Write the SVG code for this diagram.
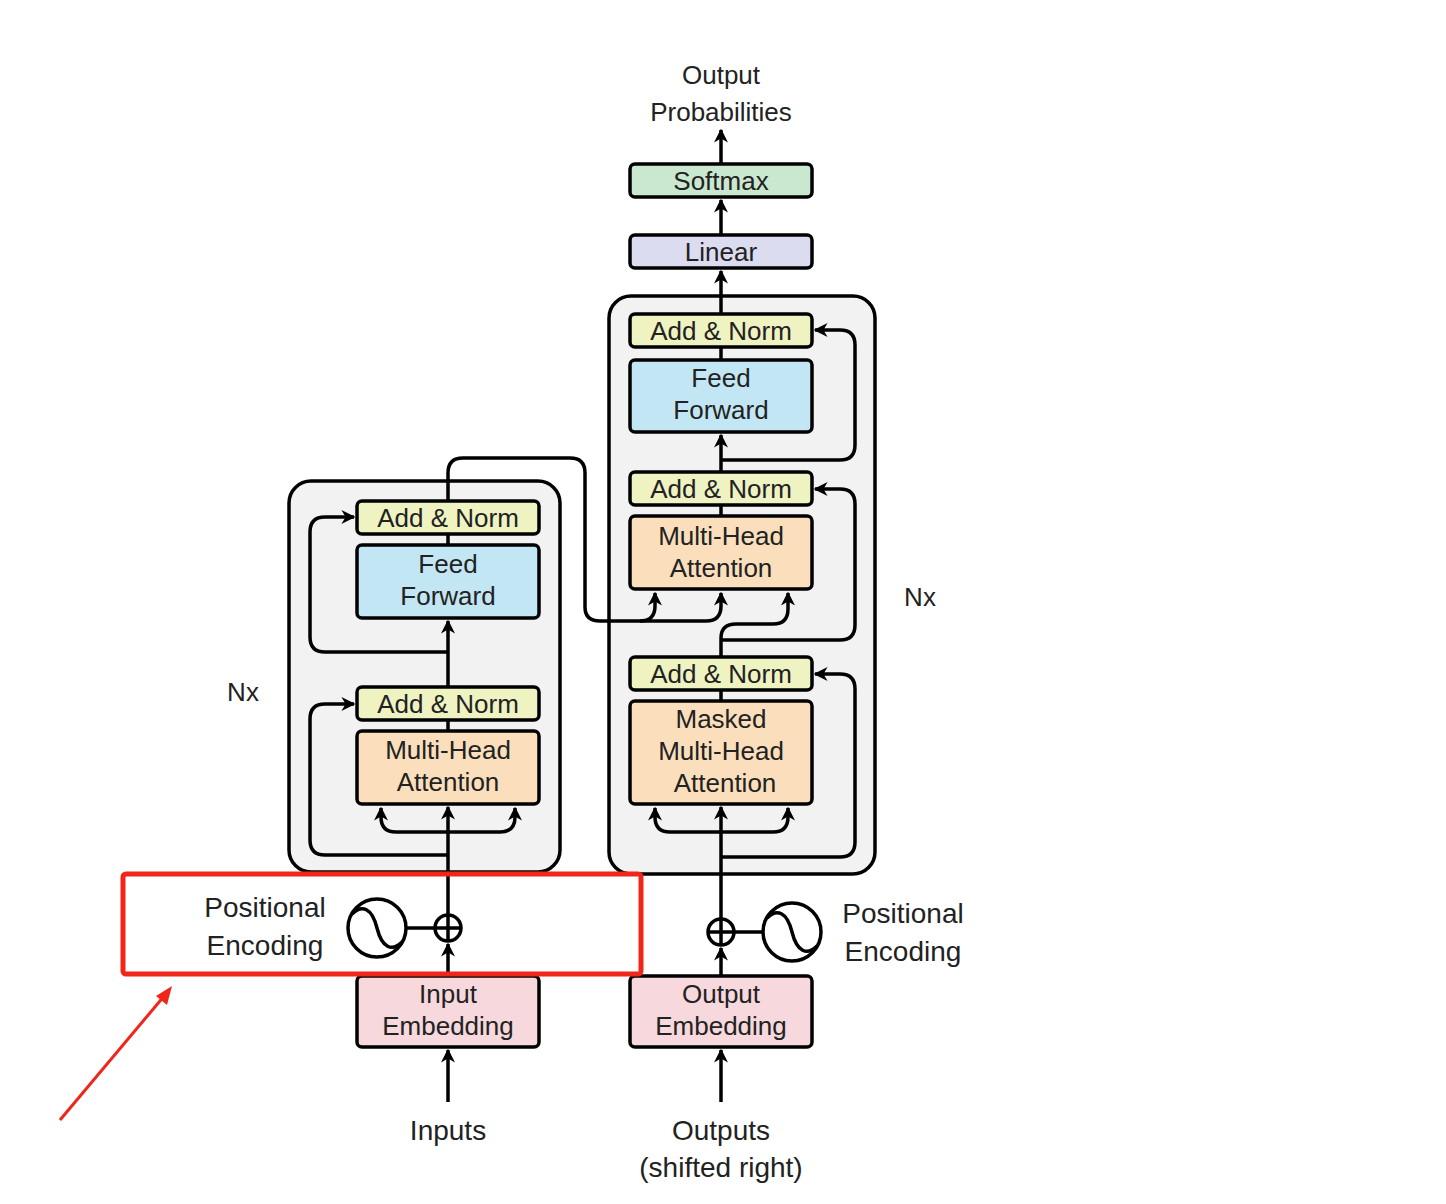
<svg xmlns="http://www.w3.org/2000/svg" width="1446" height="1204" viewBox="0 0 1446 1204">
<defs>
<marker id="ah" viewBox="0 0 10 10" refX="9" refY="5" markerWidth="4" markerHeight="4" orient="auto"><path d="M0,0 L10,5 L0,10 L3,5 z" fill="#000"/></marker>
<style>
text{font-family:"Liberation Sans",Arial,sans-serif;font-size:26px;fill:#222;text-anchor:middle}
.b{stroke:#000;stroke-width:3.5}
.st{fill:#f2f2f2;stroke:#000;stroke-width:3.5}
.c{fill:none;stroke:#000;stroke-width:3.5}
.an{fill:#eff3c2}.ff{fill:#c2e6f4}.mh{fill:#fbdfbc}.em{fill:#f6d8dd}.li{fill:#dcdcf0}.sm{fill:#c9e8cf}
</style>
</defs>
<rect x="289" y="481" width="271" height="391" rx="22" class="st"/>
<rect x="609" y="296" width="266" height="578" rx="22" class="st"/>
<g id="connectors" class="c">
<path d="M448 1102 V1050" marker-end="url(#ah)"/>
<path d="M721 1102 V1050" marker-end="url(#ah)"/>
<path d="M448 976 V944" marker-end="url(#ah)"/>
<path d="M721 976 V948" marker-end="url(#ah)"/>
<path d="M406 928 H435"/><path d="M734 932 H763"/>
<path d="M448 915 V807" marker-end="url(#ah)"/>
<path d="M448 832 H396 Q381 832 381 817 V808" marker-end="url(#ah)"/>
<path d="M448 832 H500 Q515 832 515 817 V808" marker-end="url(#ah)"/>
<path d="M448 855 H325 Q310 855 310 840 V719 Q310 704 325 704 H354" marker-end="url(#ah)"/>
<path d="M448 731 V720"/>
<path d="M448 687 V621" marker-end="url(#ah)"/>
<path d="M448 652 H325 Q310 652 310 637 V532 Q310 517 325 517 H354" marker-end="url(#ah)"/>
<path d="M448 545 V534"/>
<path d="M448 501 V473 Q448 458 463 458 H570 Q585 458 585 473 V607 Q585 621 600 621 H640 Q655 621 655 606 V593" marker-end="url(#ah)"/>
<path d="M640 621 H706 Q721 621 721 606 V593" marker-end="url(#ah)"/>
<path d="M721 919 V807" marker-end="url(#ah)"/>
<path d="M721 832 H670 Q655 832 655 817 V808" marker-end="url(#ah)"/>
<path d="M721 832 H773 Q788 832 788 817 V808" marker-end="url(#ah)"/>
<path d="M721 857 H840 Q855 857 855 842 V689 Q855 674 840 674 H815" marker-end="url(#ah)"/>
<path d="M721 701 V690"/>
<path d="M721 657 V638 Q721 624 736 624 H773 Q788 624 788 609 V593" marker-end="url(#ah)"/>
<path d="M721 640 H840 Q855 640 855 625 V504 Q855 489 840 489 H815" marker-end="url(#ah)"/>
<path d="M721 516 V505"/>
<path d="M721 472 V435" marker-end="url(#ah)"/>
<path d="M721 460 H840 Q855 460 855 445 V345 Q855 330 840 330 H815" marker-end="url(#ah)"/>
<path d="M721 360 V347"/>
<path d="M721 314 V271" marker-end="url(#ah)"/>
<path d="M721 235 V200" marker-end="url(#ah)"/>
<path d="M721 164 V130" marker-end="url(#ah)"/>
</g>
<g id="enc-addnorm2"><rect x="357" y="501" width="182" height="33" rx="5" class="b an"/><text x="448" y="527">Add &amp; Norm</text></g>
<g id="enc-ff"><rect x="357" y="545" width="182" height="73" rx="5" class="b ff"/><text x="448" y="573">Feed</text><text x="448" y="605">Forward</text></g>
<g id="enc-addnorm1"><rect x="357" y="687" width="182" height="33" rx="5" class="b an"/><text x="448" y="713">Add &amp; Norm</text></g>
<g id="enc-mha"><rect x="357" y="731" width="182" height="73" rx="5" class="b mh"/><text x="448" y="759">Multi-Head</text><text x="448" y="791">Attention</text></g>
<g id="dec-addnorm3"><rect x="630" y="314" width="182" height="33" rx="5" class="b an"/><text x="721" y="340">Add &amp; Norm</text></g>
<g id="dec-ff"><rect x="630" y="360" width="182" height="72" rx="5" class="b ff"/><text x="721" y="387">Feed</text><text x="721" y="419">Forward</text></g>
<g id="dec-addnorm2"><rect x="630" y="472" width="182" height="33" rx="5" class="b an"/><text x="721" y="498">Add &amp; Norm</text></g>
<g id="dec-mha"><rect x="630" y="516" width="182" height="73" rx="5" class="b mh"/><text x="721" y="545">Multi-Head</text><text x="721" y="577">Attention</text></g>
<g id="dec-addnorm1"><rect x="630" y="657" width="182" height="33" rx="5" class="b an"/><text x="721" y="683">Add &amp; Norm</text></g>
<g id="dec-mmha"><rect x="630" y="701" width="182" height="103" rx="5" class="b mh"/><text x="721" y="728">Masked</text><text x="721" y="760">Multi-Head</text><text x="725" y="792">Attention</text></g>
<g id="linear"><rect x="630" y="235" width="182" height="33" rx="5" class="b li"/><text x="721" y="261">Linear</text></g>
<g id="softmax"><rect x="630" y="164" width="182" height="33" rx="5" class="b sm"/><text x="721" y="190">Softmax</text></g>
<g id="in-emb"><rect x="357" y="976" width="182" height="71" rx="5" class="b em"/><text x="448" y="1003">Input</text><text x="448" y="1035">Embedding</text></g>
<g id="out-emb"><rect x="630" y="976" width="182" height="71" rx="5" class="b em"/><text x="721" y="1003">Output</text><text x="721" y="1035">Embedding</text></g>
<g id="enc-pe" class="c">
<circle cx="377" cy="928" r="29" fill="#fff"/><path d="M352 914 C362 904 372 908 377 928 C382 948 392 952 402 942"/>
<circle cx="448" cy="928" r="13" fill="#fff"/><path d="M435 928 H461 M448 915 V941"/>
</g>
<g id="dec-pe" class="c">
<circle cx="792" cy="932" r="29" fill="#fff"/><path d="M767 918 C777 908 787 912 792 932 C797 952 807 956 817 946"/>
<circle cx="721" cy="932" r="13" fill="#fff"/><path d="M708 932 H734 M721 919 V945"/>
</g>
<g id="labels">
<text x="721" y="84" font-size="28">Output</text>
<text x="721" y="121" font-size="28">Probabilities</text>
<text x="243" y="701">Nx</text>
<text x="920" y="606">Nx</text>
<text x="265" y="917" style="font-size:28px">Positional</text>
<text x="265" y="955" style="font-size:28px">Encoding</text>
<text x="903" y="923" style="font-size:28px">Positional</text>
<text x="903" y="961" style="font-size:28px">Encoding</text>
<text x="448" y="1140" style="font-size:28px">Inputs</text>
<text x="721" y="1140" style="font-size:28px">Outputs</text>
<text x="721" y="1177" style="font-size:28px">(shifted right)</text>
</g>
<rect x="123" y="874" width="518" height="100" rx="3" fill="none" stroke="#f0261b" stroke-width="5"/>
<path d="M60 1120 L165 995" stroke="#f0261b" stroke-width="3" fill="none"/>
<path d="M172 986 L156 996 L167 1005 z" fill="#f0261b"/>
</svg>
